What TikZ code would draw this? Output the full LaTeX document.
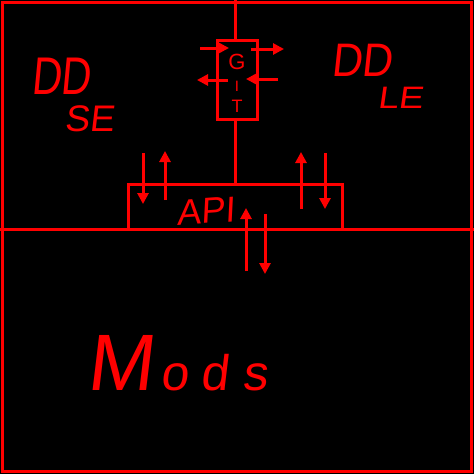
\documentclass[tikz,border=0pt]{standalone}
\usepackage{fontspec}
\setmainfont{Liberation Sans}
\newfontfamily\handfont[FakeSlant=0.12]{Liberation Sans}
\newfontfamily\uprfont{Liberation Sans}
\usetikzlibrary{arrows.meta}
\definecolor{pen}{RGB}{255,0,0}
\tikzset{
  ink/.style={draw=pen, line width=3pt},
  arr/.style={ink, -{Triangle[length=11pt,width=11pt]}},
  hand/.style={text=pen, inner sep=0pt, font=\handfont},
}
\begin{document}
\begin{tikzpicture}[x=1pt,y=-1pt]
\fill[black] (0,0) rectangle (474,474);
\useasboundingbox (0,0) rectangle (474,474);
% frame and divider
\draw[ink] (2,2) rectangle (471.5,471.5);
\coordinate (divl) at (0,229);
\coordinate (divr) at (474,229);
\draw[ink] (divl) -- (divr);
% GIT box
\node[ink, minimum width=40pt, minimum height=79pt, inner sep=0pt] (git) at (237.5,80) {};
\node[hand, font=\uprfont\fontsize{22}{22}\selectfont] (g) at (237,62) {G};
\node[hand, font=\uprfont\fontsize{15}{15}\selectfont] (i) at (237,86) {I};
\node[hand, font=\uprfont\fontsize{18}{18}\selectfont] (t) at (237,106) {T};
% API box (top and sides; bottom is the divider)
\coordinate (apibl) at (128,229);
\coordinate (apitl) at (128,184);
\coordinate (apitr) at (342,184);
\coordinate (apibr) at (342,229);
\draw[ink] (apibl) -- (apitl) -- (apitr) -- (apibr);
\node[hand, font=\handfont\fontsize{36}{36}\selectfont, rotate=4] (api) at (206,211) {API};
% vertical trunk
\coordinate (top) at (235,0);
\coordinate (gittop) at (235,40);
\coordinate (gitbot) at (235,120);
\coordinate (apitop) at (235,184);
\draw[ink] (top) -- (gittop);
\draw[ink] (gitbot) -- (apitop);
% arrows around GIT
\coordinate (a1s) at (200,48); \coordinate (a1e) at (229,48);
\coordinate (a2s) at (251,49); \coordinate (a2e) at (284,49);
\coordinate (a3s) at (228,80); \coordinate (a3e) at (197,80);
\coordinate (a4s) at (278,79); \coordinate (a4e) at (246,79);
\draw[arr] (a1s) -- (a1e);
\draw[arr] (a2s) -- (a2e);
\draw[arr] (a3s) -- (a3e);
\draw[arr] (a4s) -- (a4e);
% arrows at API top
\coordinate (b1s) at (143,153); \coordinate (b1e) at (143,204);
\coordinate (b2s) at (165,200); \coordinate (b2e) at (165,151);
\coordinate (b3s) at (301,209); \coordinate (b3e) at (301,152);
\coordinate (b4s) at (325,153); \coordinate (b4e) at (325,209);
\draw[arr] (b1s) -- (b1e);
\draw[arr] (b2s) -- (b2e);
\draw[arr] (b3s) -- (b3e);
\draw[arr] (b4s) -- (b4e);
% arrows below API
\coordinate (c1s) at (246,271); \coordinate (c1e) at (246,208);
\coordinate (c2s) at (265,214); \coordinate (c2e) at (265,274);
\draw[arr] (c1s) -- (c1e);
\draw[arr] (c2s) -- (c2e);
% labels
\node[hand, font=\handfont\fontsize{53}{53}\selectfont, xscale=0.78] (ddse) at (61,76) {DD};
\node[hand, font=\handfont\fontsize{37}{37}\selectfont] (se) at (89,119) {SE};
\node[hand, font=\handfont\fontsize{47}{47}\selectfont, xscale=0.9] (ddle) at (362,60) {DD};
\node[hand, font=\handfont\fontsize{31}{31}\selectfont, xscale=1.2] (le) at (400,98) {LE};
\node[hand, anchor=base west] (mods) at (86,390) {{\fontsize{80}{80}\selectfont M}{\fontsize{50}{50}\selectfont\hspace{8pt}o\hspace{12pt}d\hspace{14pt}s}};
\end{tikzpicture}
\end{document}
